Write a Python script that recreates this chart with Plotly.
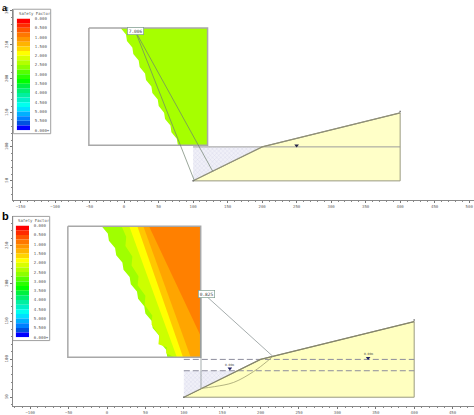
import plotly.graph_objects as go

W = 474
H = 415

# legend
legend_colors = ['#ff0000', '#ff2a00', '#ff5500', '#ff7700', '#ff9500', '#ffb400', '#ffd400', '#ffff00',
                 '#d9ff00', '#b3ff00', '#8cff00', '#55ff00', '#2aff00', '#00ff00', '#00f040', '#00f070',
                 '#00f0a0', '#00f0c8', '#00ffee', '#00e0ff', '#00b0ff', '#0080ff', '#0050e0', '#0000ff']
legend_mid = [0.125, 0.375, 0.625, 0.875, 1.125, 1.375, 1.625, 1.875, 2.125, 2.375, 2.625, 2.875,
              3.125, 3.375, 3.625, 3.875, 4.125, 4.375, 4.625, 4.875, 5.125, 5.375, 5.625, 5.875]
legend_vals = [0, 0.5, 1, 1.5, 2, 2.5, 3, 3.5, 4, 4.5, 5, 5.5, 6]
legend_text = ['0.000', '0.500', '1.000', '1.500', '2.000', '2.500', '3.000', '3.500', '4.000',
               '4.500', '5.000', '5.500', '6.000+']

# slope geometry
soil_x = [100, 200, 400, 400, 100, 100]
soil_y = [50, 100, 150, 50, 50, 50]
vertex_x = [100, 400]
vertex_y = [50, 152]

# panel a
a_box_x = [-51, 121, 121, -51, -51]
a_box_y = [275, 275, 102.5, 102.5, 275]
a_edge_x = [-5, 2.8, 4.2, 12, 13.4, 21.2, 22.6, 30.4, 31.8, 39.6, 41, 48.8, 50.2, 58, 59.4, 67.2, 68.6, 76.4, 78]
a_edge_y = [275, 265.4, 255.8, 246.2, 236.7, 227, 217.5, 207.9, 198.3, 188.8, 179.2, 169.6, 160, 150.4, 140.9,
            131.3, 121.7, 112.1, 102.5]
a_hatch_x = [100, 100, 200, 100]
a_hatch_y = [50, 100, 100, 50]
a_water_x = [100, 400]
a_water_y = [100, 100]
a_radius_x = [102, 16, 128.5]
a_radius_y = [50, 271, 64]

# panel b
b_box_x = [-51, 122, 122, -51, -51]
b_box_y = [276, 276, 103, 103, 276]
b_edge_x = [-7, 1, 2.5, 10.5, 12, 20, 21.5, 29.5, 31, 39, 40.5, 48.5, 50, 58, 59.5, 67.5, 69, 77, 78.5]
b_edge_y = [276, 266.4, 256.8, 247.2, 237.6, 228, 218.4, 208.8, 199.2, 189.6, 180, 170.4, 160.8, 151.2, 141.6,
            132, 122.4, 112.8, 103]
b_lime_x = [19, 25, 24, 33, 32, 41, 40, 50, 49, 59, 58, 68, 67, 78, 77, 88]
b_lime_y = [276, 262, 250, 236, 224, 210, 198, 184, 172, 158, 146, 132, 120, 116, 108, 103]
b_yellow_x = [29, 91]
b_yellow_y = [276, 103]
b_gold_x = [39.5, 99]
b_gold_y = [276, 103]
b_light_x = [47.3, 109]
b_light_y = [276, 103]
b_orange_x = [54.7, 122]
b_orange_y = [276, 131]
b_hatch_x = [100, 100, 170, 100]
b_hatch_y = [50, 85, 85, 50]
b_water1_x = [100, 400]
b_water1_y = [100, 100]
b_water2_x = [100, 400]
b_water2_y = [85, 85]
b_slip_x = [122.4, 140, 165, 191, 208, 216]
b_slip_y = [61.7, 64, 69.6, 84, 97, 104]
b_radius_x = [122.4, 122.4, 216]
b_radius_y = [61.7, 190, 104]

MARK_A_X = [250]
MARK_A_Y = [102]
MARK_B_X = [160, 340]
MARK_B_Y = [88, 102]

fig = go.Figure()


def poly(x, y, color, xa, ya, line=None, width=0):
    fig.add_trace(go.Scatter(x=x, y=y, mode='lines', fill='toself', fillcolor=color, xaxis=xa, yaxis=ya,
                             line=dict(color=line or color, width=width), hoverinfo='skip'))


def path(x, y, color, xa, ya, width=0.8, dash=None, shape='linear'):
    fig.add_trace(go.Scatter(x=x, y=y, mode='lines', xaxis=xa, yaxis=ya, hoverinfo='skip',
                             line=dict(color=color, width=width, dash=dash, shape=shape)))


def hatch(x, y, xa, ya):
    fig.add_trace(go.Scatter(x=x, y=y, mode='lines', fill='toself', xaxis=xa, yaxis=ya, hoverinfo='skip',
                             line=dict(width=0), fillcolor='#f0f0f8',
                             fillpattern=dict(shape='x', size=3, solidity=0.25, fgcolor='#bcbcd8', bgcolor='#f0f0f8')))


def dots(x, y, xa, ya, symbol='square', size=1.5, color='#777777'):
    fig.add_trace(go.Scatter(x=x, y=y, mode='markers', xaxis=xa, yaxis=ya, hoverinfo='skip',
                             marker=dict(symbol=symbol, size=size, color=color)))


def right_of(x, y, top_right, bottom_right):
    # close a contour band against the right side of the box
    return x + [top_right[0], bottom_right[0], x[0]], y + [top_right[1], bottom_right[1], y[0]]


# panel a
poly(soil_x, soil_y, '#ffffc8', 'x', 'y', '#9a9a80', 1)
hatch(a_hatch_x, a_hatch_y, 'x', 'y')
path(a_water_x, a_water_y, '#9c9c9c', 'x', 'y', 1)
path([100, 200, 400], [50, 100, 150], '#8f8f78', 'x', 'y', 1.1)
gx, gy = right_of(a_edge_x, a_edge_y, (121, 102.5), (121, 275))
poly(gx, gy, '#a6ff00', 'x', 'y')
path(a_box_x, a_box_y, '#a8a8a8', 'x', 'y', 1.5)
path(a_radius_x, a_radius_y, '#6f7f6f', 'x', 'y', 0.7)
dots(MARK_A_X, MARK_A_Y, 'x', 'y', 'triangle-down', 4, '#222244')
dots(vertex_x, vertex_y, 'x', 'y')

# panel b
poly(soil_x, soil_y, '#ffffc0', 'x2', 'y2', '#9a9a80', 1)
hatch(b_hatch_x, b_hatch_y, 'x2', 'y2')
path(b_water1_x, b_water1_y, '#8c8c9c', 'x2', 'y2', 1, '6px,3px')
path(b_water2_x, b_water2_y, '#8c8c9c', 'x2', 'y2', 1, '6px,3px')
path([100, 200, 400], [50, 100, 150], '#85856c', 'x2', 'y2', 1.2)
path(b_slip_x, b_slip_y, '#a0a070', 'x2', 'y2', 0.8, shape='spline')

gx, gy = right_of(b_edge_x, b_edge_y, (122, 103), (122, 276))
poly(gx, gy, '#a0ff00', 'x2', 'y2')
gx, gy = right_of(b_lime_x, b_lime_y, (122, 103), (122, 276))
poly(gx, gy, '#ccff00', 'x2', 'y2')
gx, gy = right_of(b_yellow_x, b_yellow_y, (122, 103), (122, 276))
poly(gx, gy, '#ffff00', 'x2', 'y2')
gx, gy = right_of(b_gold_x, b_gold_y, (122, 103), (122, 276))
poly(gx, gy, '#ffc800', 'x2', 'y2')
gx, gy = right_of(b_light_x, b_light_y, (122, 103), (122, 276))
poly(gx, gy, '#ffa500', 'x2', 'y2')
gx, gy = right_of(b_orange_x, b_orange_y, (122, 131), (122, 276))
poly(gx, gy, '#ff8000', 'x2', 'y2')
path(b_box_x, b_box_y, '#a8a8a8', 'x2', 'y2', 1.5)
path(b_radius_x, b_radius_y, '#7f8a8a', 'x2', 'y2', 0.7)
dots(MARK_B_X, MARK_B_Y, 'x2', 'y2', 'triangle-down', 4, '#222266')
dots(vertex_x, vertex_y, 'x2', 'y2')

# legends
for xa, ya in [('x3', 'y3'), ('x4', 'y4')]:
    fig.add_trace(go.Bar(x=[1] * len(legend_mid), y=legend_mid, width=0.25, orientation='h', xaxis=xa, yaxis=ya,
                         marker=dict(color=legend_colors, line=dict(width=0)), hoverinfo='skip'))


def dx(a, b):
    return [a / W, b / W]


def dy(top, bottom):
    return [1 - bottom / H, 1 - top / H]


mono = 'DejaVu Sans Mono'
tick_font = dict(family=mono, size=4, color='#666666')


def main_x(rng, dom, anchor):
    return dict(range=rng, domain=dom, anchor=anchor, dtick=50, tick0=0, ticks='outside', ticklen=2, tickwidth=0.6,
                tickcolor='#777777', showline=True, linecolor='#888888', linewidth=1, showgrid=False, zeroline=False,
                tickfont=tick_font, minor=dict(dtick=10, ticks='outside', ticklen=1, tickcolor='#888888',
                                               showgrid=False))


def main_y(rng, dom, anchor):
    return dict(range=rng, domain=dom, anchor=anchor, dtick=50, tick0=0, ticks='outside', ticklen=2, tickwidth=0.6,
                tickcolor='#777777', showline=True, linecolor='#888888', linewidth=1, showgrid=False, zeroline=False,
                tickfont=tick_font, tickangle=-90, minor=dict(dtick=10, ticks='outside', ticklen=1,
                                                              tickcolor='#888888', showgrid=False))


def legend_x(dom, anchor):
    return dict(range=[0, 1], domain=dom, anchor=anchor, visible=False)


def legend_y(dom, anchor):
    return dict(range=[6, 0], domain=dom, anchor=anchor, side='right', tickvals=legend_vals, ticktext=legend_text,
                ticks='outside', ticklen=3, tickcolor='rgba(0,0,0,0)', showgrid=False, zeroline=False, showline=False,
                tickfont=dict(family=mono, size=4, color='#555555'))


def box(x0, x1, top, bottom):
    return dict(type='rect', xref='paper', yref='paper', x0=x0 / W, x1=x1 / W, y0=1 - bottom / H, y1=1 - top / H,
                fillcolor='white', line=dict(color='#a0a0a0', width=1), layer='below')


def text(x, y, s, size=4, family=mono, color='#555555', bold=False):
    return dict(xref='paper', yref='paper', x=x / W, y=1 - y / H, text='<b>%s</b>' % s if bold else s, showarrow=False,
                font=dict(family=family, size=size, color=color), xanchor='left', yanchor='middle')


fig.update_layout(
    width=W, height=H, margin=dict(l=0, r=0, t=0, b=0), autosize=False, showlegend=False,
    paper_bgcolor='white', plot_bgcolor='rgba(0,0,0,0)',
    xaxis=main_x([-160.9, 507], dx(13, 474), 'y'),
    yaxis=main_y([22, 303], dy(6, 199.3), 'x'),
    xaxis2=main_x([-122.8, 477.9], dx(12.7, 474), 'y2'),
    yaxis2=main_y([37.9, 289], dy(216, 408.3), 'x2'),
    xaxis3=legend_x(dx(16.7, 30), 'y3'),
    yaxis3=legend_y(dy(15.7, 128.7), 'x3'),
    xaxis4=legend_x(dx(15.7, 29), 'y4'),
    yaxis4=legend_y(dy(225.3, 338.3), 'x4'),
    shapes=[box(13.3, 50.7, 6.3, 132.3), box(12.7, 49.7, 216, 341.7)],
    annotations=[
        text(16.5, 11, 'Safety Factor'),
        text(15.5, 220.5, 'Safety Factor'),
        text(0, 5.5, 'a', 9, 'Liberation Sans', 'black', True),
        text(0, 216, 'b', 11, 'Liberation Sans', 'black', True),
        dict(xref='x', yref='y', x=16, y=271, text='7.006', showarrow=False, bgcolor='white', borderpad=1,
             bordercolor='#7f9f8f', borderwidth=0.7, font=dict(family=mono, size=4.5, color='#444444')),
        dict(xref='x2', yref='y2', x=129, y=186, text='0.825', showarrow=False, bgcolor='white', borderpad=1,
             bordercolor='#7f9f8f', borderwidth=0.7, font=dict(family=mono, size=4.5, color='#444444')),
        dict(xref='x2', yref='y2', x=160, y=93, text='0.00m', showarrow=False, font=dict(family=mono, size=3, color='#444444')),
        dict(xref='x2', yref='y2', x=340, y=107, text='0.00m', showarrow=False, font=dict(family=mono, size=3, color='#444444')),
    ],
)

fig.write_html("out.html", config=dict(displayModeBar=False), post_script="document.body.style.margin='0';")
